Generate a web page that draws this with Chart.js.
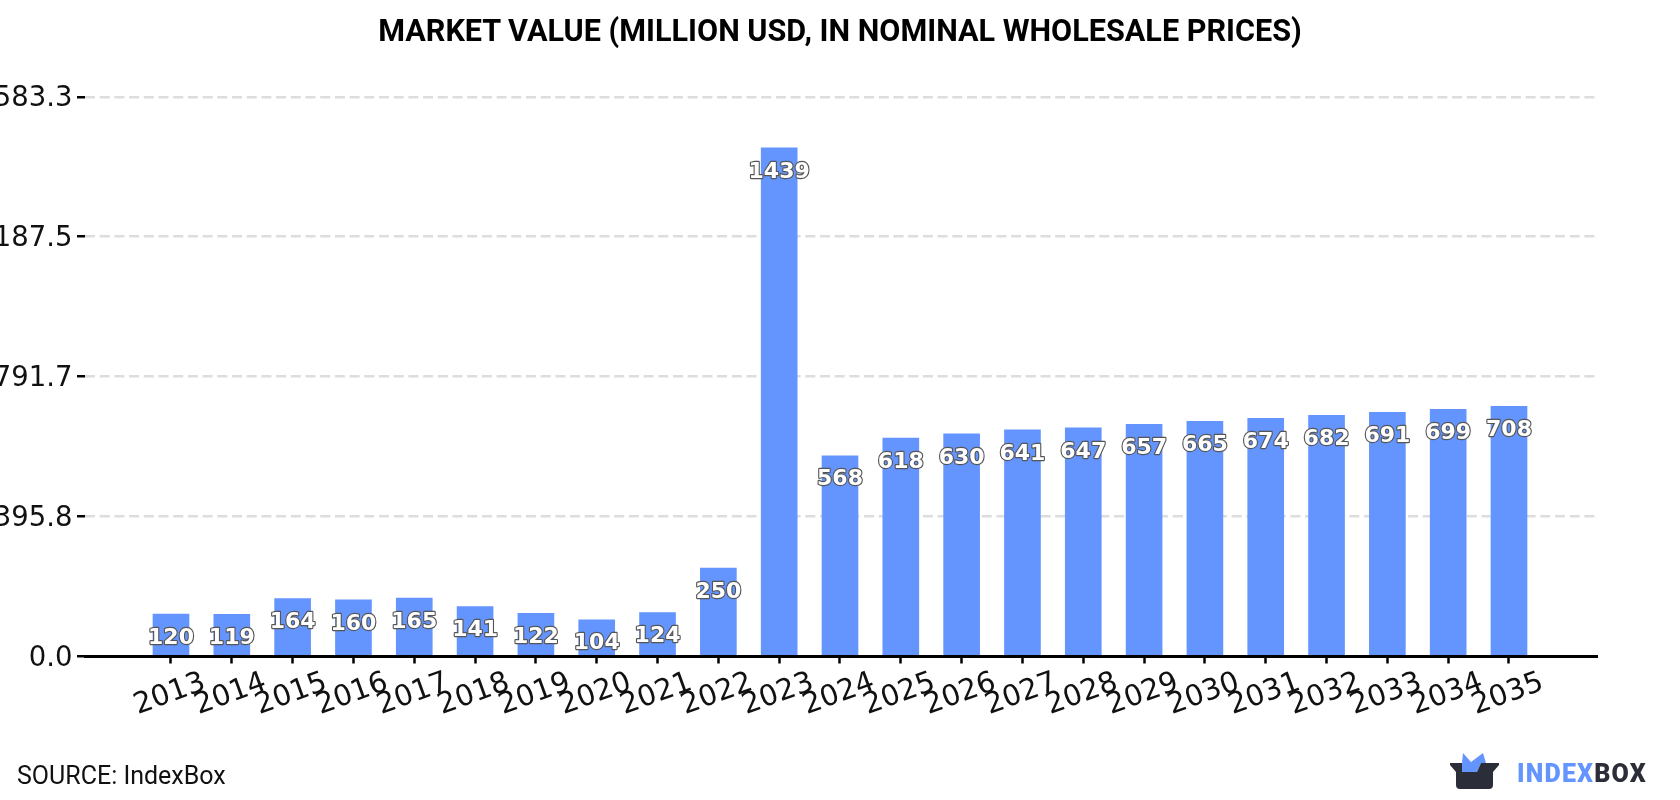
<!DOCTYPE html>
<html>
<head>
<meta charset="utf-8">
<style>
  html, body { margin: 0; padding: 0; background: #fff; }
  #wrap { position: relative; width: 1680px; height: 800px; overflow: hidden; }
  canvas { display: block; }
  #heading { position: absolute; left: 0; width: 1680px; top: 12px; text-align: center; font: 700 30.6px Roboto, sans-serif; line-height: 38px; color: #000; white-space: nowrap; }
  #source { position: absolute; left: 17px; top: 761px; font: 400 25px Roboto, sans-serif; color: #111; line-height: 30px; }
  #brand { position: absolute; left: 1450px; top: 752px; }
</style>
</head>
<body>
<div id="wrap">
  <canvas id="chart" width="1680" height="800"></canvas>
  <div id="heading">MARKET VALUE (MILLION USD, IN NOMINAL WHOLESALE PRICES)</div>
  <div id="source">SOURCE: IndexBox</div>
  <svg id="brand" width="205" height="40" viewBox="0 0 205 40">
    <path d="M12 11 L13 1 L21 10 L33 1 L36 11 L31 11 L27 20 L12 20 Z" fill="#6495ff"/>
    <path d="M0 11 L12 11 L12 20 L27 20 L31 11 L49 11 L49 13 L43 20 L43 33 Q43 37 39 37 L10 37 Q6 37 6 33 L6 20 L0 13 Z" fill="#2b2d38"/>
    <text x="67" y="30" font-family="Roboto, sans-serif" font-weight="900" font-size="25" letter-spacing="1.2" fill="#6495ff">INDEX<tspan fill="#2b2d38">BOX</tspan></text>
  </svg>
</div>
<script src="https://cdn.jsdelivr.net/npm/chart.js@4"></script>
<script>
const years = ['2013','2014','2015','2016','2017','2018','2019','2020','2021','2022','2023','2024','2025','2026','2027','2028','2029','2030','2031','2032','2033','2034','2035'];
const marketValue = [120,119,164,160,165,141,122,104,124,250,1439,568,618,630,641,647,657,665,674,682,691,699,708];
const yTicks = [0,395.8,791.7,1187.5,1583.3];

// Value captions sit just under each bar's top edge: white digits with a grey outline.
const barCaptions = {
  id: 'barCaptions',
  afterDatasetsDraw(chart) {
    const { ctx } = chart;
    const bars = chart.getDatasetMeta(0).data;
    ctx.save();
    ctx.font = 'bold 22px "DejaVu Sans"';
    ctx.textAlign = 'center';
    ctx.textBaseline = 'middle';
    ctx.lineJoin = 'round';
    bars.forEach((bar, i) => {
      const label = String(marketValue[i]);
      const y = bar.y + 24;
      ctx.lineWidth = 2.3;
      ctx.strokeStyle = '#555555';
      ctx.strokeText(label, bar.x, y);
      ctx.fillStyle = '#fff';
      ctx.fillText(label, bar.x, y);
    });
    ctx.restore();
  }
};

new Chart(document.getElementById('chart'), {
  type: 'bar',
  data: {
    datasets: [{
      data: marketValue.map((v, i) => ({ x: i, y: v })),
      backgroundColor: '#6495ff',
      barThickness: 36
    }]
  },
  plugins: [barCaptions],
  options: {
    responsive: false,
    animation: false,
    layout: { padding: { left: 0, right: 83, top: 96.8, bottom: 0 } },
    plugins: {
      legend: { display: false },
      tooltip: { enabled: false },
      title: { display: false }
    },
    scales: {
      x: {
        type: 'linear',
        offset: false,
        min: -1.414,
        max: 23.447,
        afterBuildTicks(scale) { scale.ticks = years.map((_, i) => ({ value: i })); },
        afterFit(scale) { scale.height = 143.5; },
        border: { display: true, color: '#000', width: 3, z: 2 },
        grid: { offset: false, drawOnChartArea: false, drawTicks: true, tickColor: '#000', tickWidth: 2.5, tickLength: 7 },
        ticks: {
          autoSkip: false,
          minRotation: 20,
          maxRotation: 20,
          labelOffset: 33.5,
          padding: 2,
          color: '#111',
          font: { family: 'DejaVu Sans', size: 29 },
          callback: (v) => years[v]
        }
      },
      y: {
        min: 0,
        max: 1583.3,
        afterBuildTicks(scale) { scale.ticks = yTicks.map((value) => ({ value })); },
        afterFit(scale) { scale.width = 85; },
        border: { display: false, dash: [10, 4.7] },
        grid: { color: '#dddddd', lineWidth: 2.5, tickColor: '#000', tickWidth: 2.5, tickLength: 8, tickBorderDash: [] },
        ticks: {
          padding: 4.5,
          labelOffset: 2,
          color: '#111',
          font: { family: 'DejaVu Sans', size: 27.5 },
          callback: (v) => v.toFixed(1)
        }
      }
    }
  }
});
</script>
</body>
</html>
